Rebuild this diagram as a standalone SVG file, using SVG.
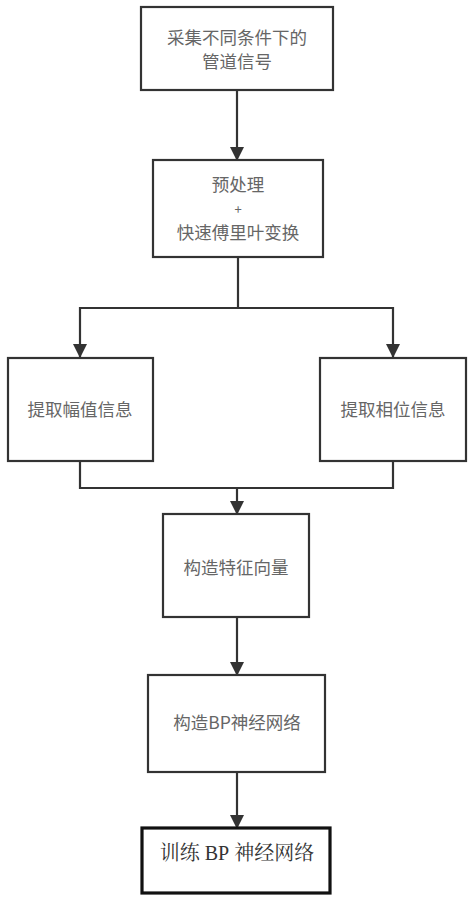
<svg xmlns="http://www.w3.org/2000/svg" width="474" height="901" viewBox="0 0 474 901">
<style>
.box{fill:#fff;stroke:#333;stroke-width:2.2}
.t{font-family:"Noto Sans CJK SC","Noto Sans",sans-serif;font-size:17.5px;fill:#666;text-anchor:middle}
.c{fill:none;stroke:#333;stroke-width:2.2}
</style>
<defs>
<marker id="ah" markerUnits="userSpaceOnUse" markerWidth="14" markerHeight="16" refX="13" refY="7" orient="auto">
<path d="M0,0 L14,7 L0,14 Z" fill="#333"/>
</marker>
</defs>
<rect width="474" height="901" fill="#fff"/>
<g id="connectors">
<path class="c" d="M237,90 V160" marker-end="url(#ah)"/>
<path class="c" d="M238,257 V308 H80 V357" marker-end="url(#ah)"/>
<path class="c" d="M238,308 H393 V357" marker-end="url(#ah)"/>
<path class="c" d="M80,461 V488 H393 V461"/>
<path class="c" d="M237,488 V514" marker-end="url(#ah)"/>
<path class="c" d="M237,617 V675" marker-end="url(#ah)"/>
<path class="c" d="M237,772 V828" marker-end="url(#ah)"/>
</g>
<g id="n1"><rect class="box" x="141" y="7" width="192" height="83"/>
<text class="t" x="237" y="44">采集不同条件下的</text>
<text class="t" x="237" y="68">管道信号</text></g>
<g id="n2"><rect class="box" x="153" y="160" width="170" height="97"/>
<text class="t" x="238" y="191">预处理</text>
<text class="t" x="238" y="214" style="font-size:13px">+</text>
<text class="t" x="238" y="239">快速傅里叶变换</text></g>
<g id="n3"><rect class="box" x="8" y="358" width="145" height="103"/>
<text class="t" x="80" y="416">提取幅值信息</text></g>
<g id="n4"><rect class="box" x="320" y="358" width="146" height="103"/>
<text class="t" x="393" y="416">提取相位信息</text></g>
<g id="n5"><rect class="box" x="163" y="514" width="146" height="103"/>
<text class="t" x="236" y="574">构造特征向量</text></g>
<g id="n6"><rect class="box" x="148" y="675" width="177" height="97"/>
<text class="t" x="237" y="729">构造BP神经网络</text></g>
<g id="n7"><rect x="142" y="828" width="188" height="65" fill="#fff" stroke="#111" stroke-width="3.2"/>
<text x="237" y="860" font-family="'Noto Serif CJK SC','Noto Sans CJK SC','Liberation Serif',serif" font-size="20" fill="#333" text-anchor="middle">训练 <tspan font-family="'Liberation Serif',serif">BP</tspan> 神经网络</text></g>
</svg>
